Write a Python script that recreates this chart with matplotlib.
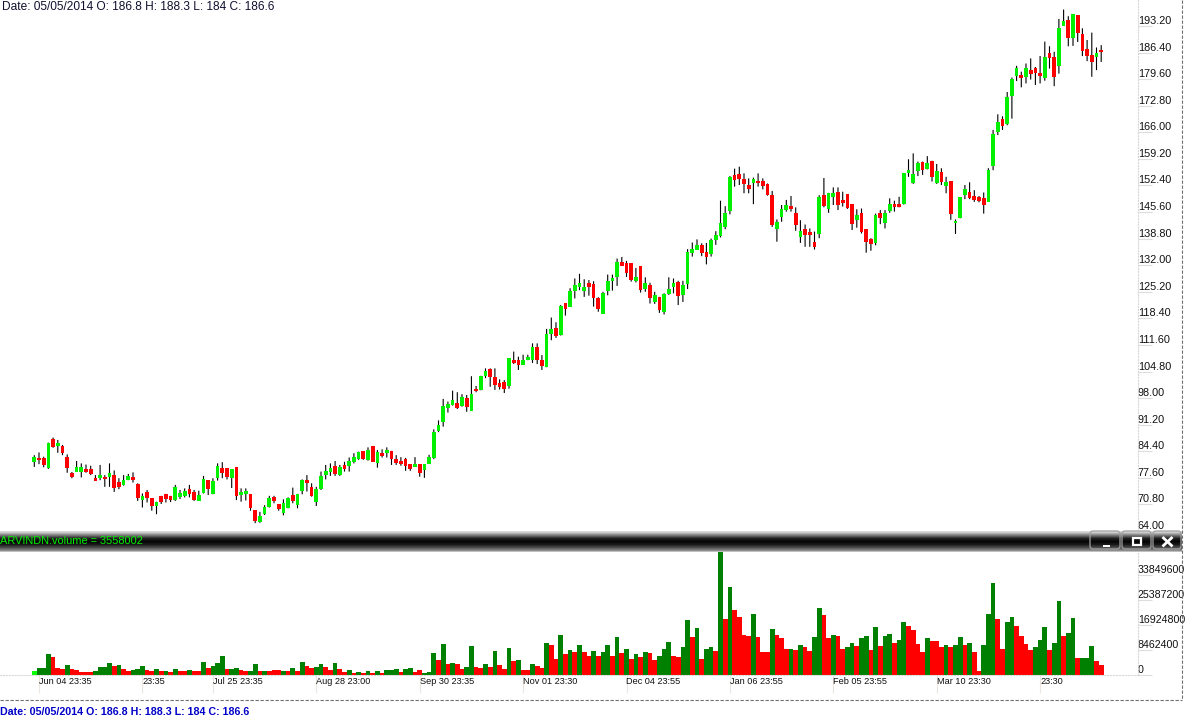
import matplotlib
matplotlib.use("Agg")
import matplotlib.pyplot as plt
import numpy as np
from matplotlib.patches import FancyBboxPatch, Rectangle

plt.rcParams['font.family'] = ['Liberation Sans', 'DejaVu Sans']

# ====== DATA ======
opens = [
    81.6,82.6,82.4,80.0,87.3,85.8,85.5,82.8,78.6,79.2,
    79.1,79.8,79.7,77.5,77.5,77.7,77.8,78.3,76.4,75.8,
    77.0,77.7,75.8,72.0,73.7,72.3,70.3,72.7,73.2,72.7,
    71.9,72.7,73.0,74.6,73.8,71.8,73.8,76.8,73.5,77.6,
    79.9,79.9,77.6,80.2,73.1,73.5,73.4,69.1,66.2,68.3,
    70.2,72.5,70.7,68.6,69.9,73.0,70.6,74.2,77.0,75.0,
    71.5,74.7,78.2,79.0,80.5,78.2,80.8,80.7,81.7,82.3,
    84.2,82.2,85.5,81.4,83.9,83.9,84.3,82.2,81.8,82.3,
    80.9,80.4,80.9,79.6,81.2,82.7,89.5,91.9,95.5,96.3,
    96.6,96.1,97.8,94.7,100.2,100.0,103.7,105.2,103.2,101.8,
    101.9,101.2,107.7,107.5,106.5,107.7,107.7,110.8,107.7,106.0,
    114.3,115.7,114.1,122.2,121.4,125.3,126.3,125.5,127.2,127.1,
    123.5,119.5,125.4,127.9,129.0,132.7,132.4,132.3,127.9,131.6,
    126.0,126.7,122.6,123.6,120.1,124.7,126.5,127.6,124.4,127.3,
    135.2,136.0,137.1,135.2,134.8,138.4,139.5,141.8,145.8,154.8,
    155.2,153.8,152.3,153.1,153.4,153.4,152.7,149.7,141.3,144.2,
    146.1,146.9,145.2,139.1,141.0,140.3,137.7,140.1,149.8,146.3,
    149.5,150.7,148.6,150.1,147.6,143.5,145.2,141.0,138.5,137.6,
    145.2,142.9,145.8,147.6,147.6,147.7,155.6,152.9,156.1,158.3,
    156.6,158.4,152.9,155.6,152.3,153.3,142.7,144.0,150.0,150.7,
    149.6,149.4,149.1,148.2,157.4,166.1,169.3,168.1,175.4,180.4,
    180.6,180.1,181.9,182.2,181.1,179.8,186.1,185.0,183.0,193.3,
    194.5,190.2,195.8,190.9,187.2,185.6,185.2,186.8,
]
highs = [
    83.4,84.1,83.0,86.6,87.9,87.3,86.0,83.6,79.1,81.9,
    81.3,81.0,80.7,78.3,80.9,78.3,81.3,79.5,77.5,78.3,
    78.6,79.0,76.2,73.6,74.5,72.3,71.5,73.0,73.5,73.0,
    75.8,74.5,74.9,75.8,74.5,74.3,78.1,77.0,77.5,81.3,
    81.6,80.0,79.8,80.3,74.9,74.9,73.4,69.1,68.9,70.6,
    73.0,73.0,70.8,72.1,72.6,75.1,73.5,77.2,78.3,76.2,
    75.3,79.2,80.9,81.3,81.9,80.9,81.7,82.8,83.9,84.3,
    84.3,85.4,85.5,84.7,84.9,85.4,84.5,83.4,82.9,82.7,
    81.0,82.9,80.9,81.1,83.5,90.0,92.3,97.8,97.1,99.9,
    99.5,99.0,98.8,103.6,101.1,103.7,105.6,105.6,105.6,102.8,
    102.6,108.2,109.9,108.6,109.1,109.1,112.0,112.0,109.0,115.7,
    118.6,117.4,121.8,122.2,126.1,128.6,129.8,128.4,128.2,127.9,
    123.8,125.2,129.6,129.6,133.7,134.1,133.1,132.5,131.3,131.8,
    128.9,127.5,125.2,123.9,124.8,128.9,128.6,128.0,128.0,136.1,
    137.8,138.6,137.6,137.7,138.8,140.7,148.5,147.1,154.8,156.7,
    157.2,155.5,154.2,154.4,155.5,154.2,152.9,151.0,143.7,147.4,
    148.7,149.7,146.8,143.5,142.4,141.4,140.6,149.9,154.3,150.5,
    151.9,151.9,150.8,150.2,147.6,146.3,146.5,141.0,138.9,145.2,
    146.1,146.1,149.1,148.5,149.5,155.6,159.1,160.6,158.5,158.5,
    159.9,158.7,157.9,156.8,154.6,153.4,143.7,149.3,152.5,153.2,
    151.2,149.7,150.6,156.8,166.6,170.6,170.1,176.3,180.0,183.0,
    181.5,183.6,184.9,182.7,185.5,189.2,188.0,186.6,195.0,197.4,
    195.7,196.0,196.0,192.6,189.6,191.5,187.7,188.3,
]
lows = [
    80.4,81.1,80.3,79.9,85.3,84.0,83.4,78.9,77.5,79.2,
    77.7,78.9,78.3,76.8,77.0,75.3,75.3,74.0,74.7,75.6,
    77.0,76.4,71.7,70.0,71.3,69.2,68.3,70.9,71.3,71.4,
    71.7,72.2,72.6,72.6,71.7,71.7,73.6,73.2,73.4,76.9,
    77.5,77.2,75.0,71.9,71.5,71.8,69.2,66.0,66.1,68.1,
    70.0,71.1,69.2,68.0,69.8,71.1,69.8,73.4,74.1,72.8,
    70.4,74.5,77.2,78.1,78.1,78.1,79.2,79.2,81.3,82.2,
    82.2,82.0,81.7,80.2,82.8,82.8,80.9,80.9,80.7,79.4,
    79.4,80.4,77.9,77.6,81.2,82.4,89.3,90.7,94.3,96.1,
    95.2,95.8,94.5,94.7,99.5,100.0,103.1,100.9,100.1,100.2,
    99.3,100.4,106.7,105.2,106.5,107.7,107.0,106.7,105.2,105.9,
    112.8,113.4,114.0,119.1,121.4,123.5,125.6,123.9,124.2,121.4,
    120.1,119.5,124.3,125.5,126.7,131.9,129.0,127.8,127.6,125.0,
    125.2,122.2,122.1,119.8,119.4,124.4,124.8,121.8,122.6,125.9,
    134.2,135.9,134.3,132.2,134.2,137.2,139.1,141.2,145.0,152.1,
    152.5,150.4,150.4,147.6,152.1,151.4,149.8,141.8,138.0,143.1,
    145.7,145.7,140.8,137.7,136.7,136.7,136.0,138.9,146.8,145.4,
    147.4,146.1,147.0,146.4,141.0,141.6,140.1,135.2,135.7,137.1,
    142.5,141.4,145.4,145.7,146.8,147.5,154.6,152.8,154.8,155.1,
    156.5,153.4,152.8,152.5,150.4,143.6,140.0,144.0,148.9,148.9,
    148.2,148.1,145.2,148.2,156.3,165.3,166.6,167.8,169.5,179.1,
    177.5,178.5,179.5,178.1,178.5,179.2,182.3,177.8,181.0,193.2,
    188.0,188.1,189.1,185.5,184.2,180.2,181.9,184.0,
]
closes = [
    82.7,82.1,81.0,86.4,85.5,86.3,83.9,80.1,77.7,80.1,
    80.1,79.2,78.5,76.9,78.1,77.2,78.6,75.1,75.2,76.9,
    78.0,77.0,72.4,72.7,72.4,70.4,71.2,71.4,72.3,71.9,
    75.0,73.5,74.1,73.5,71.9,73.0,77.2,74.7,76.6,80.5,
    78.9,77.8,79.7,73.0,73.9,74.1,70.0,66.6,67.8,70.0,
    72.2,71.8,69.7,71.1,72.3,71.7,73.3,76.9,76.4,73.0,
    74.5,77.9,79.2,79.9,78.7,80.3,79.9,81.7,82.9,84.0,
    82.3,84.5,81.7,84.0,83.3,84.5,82.4,81.4,81.1,80.7,
    79.9,81.1,78.8,80.9,82.9,89.3,91.0,95.7,96.4,97.4,
    95.4,98.1,95.6,99.0,99.7,103.6,104.8,103.4,101.3,100.8,
    100.4,108.1,106.9,106.5,107.7,108.3,110.8,107.7,106.3,114.3,
    115.4,114.0,121.4,120.7,125.3,126.8,127.4,126.2,126.4,123.6,
    120.9,124.8,127.8,128.5,132.6,131.9,130.1,128.2,128.8,125.6,
    127.4,123.7,124.2,120.6,124.4,125.7,127.2,124.1,126.9,135.2,
    135.9,136.9,135.0,134.2,138.2,139.5,142.7,145.1,154.5,153.8,
    154.0,152.7,151.4,154.0,153.1,152.2,149.9,142.3,143.0,146.3,
    147.3,146.3,142.4,140.5,139.7,139.6,136.6,149.3,147.2,150.2,
    150.2,147.3,148.0,146.7,142.5,144.7,140.4,138.0,137.5,144.6,
    144.1,145.2,147.6,146.9,146.9,155.4,156.3,155.3,157.9,156.4,
    157.9,154.6,155.9,153.3,153.1,145.0,143.1,149.3,151.4,149.3,
    148.8,148.3,147.5,156.3,165.5,168.4,167.6,174.9,179.6,182.4,
    179.9,182.2,180.8,181.2,180.3,185.0,185.1,180.2,192.6,194.3,
    190.2,196.0,191.3,186.8,185.6,183.9,186.2,186.6,
]

# volume in millions
volumes = [
    1.47,2.48,2.54,7.22,6.20,2.48,2.14,3.50,2.14,1.80,
    1.13,1.07,1.02,1.47,2.82,2.88,4.17,3.16,3.50,2.14,
    1.47,1.80,2.14,3.16,1.80,1.47,2.14,1.47,1.52,1.13,
    2.14,1.47,1.41,1.80,1.47,1.41,4.51,2.48,3.16,4.17,
    6.54,2.14,2.20,2.48,1.80,1.47,1.52,3.84,1.47,1.52,
    1.47,1.80,1.80,1.47,1.47,2.48,1.47,4.51,3.16,2.48,
    2.82,3.84,2.82,1.80,4.17,2.14,1.13,1.80,0.79,1.13,
    0.79,1.47,0.79,1.47,0.79,1.80,1.86,2.14,1.13,2.14,
    2.48,1.13,1.80,0.79,1.13,7.56,5.19,10.60,3.84,4.17,
    3.84,2.14,2.82,9.93,2.82,2.48,3.84,2.82,8.23,3.50,
    2.14,9.25,4.85,5.19,1.80,1.80,3.84,3.16,2.48,10.94,
    10.26,5.53,13.65,7.22,8.57,7.90,10.26,7.90,6.54,8.23,
    6.54,7.90,10.26,6.54,12.97,7.56,8.91,5.53,7.22,6.20,
    7.90,7.56,5.19,6.54,8.91,11.28,6.54,6.20,9.59,18.72,
    12.97,16.02,5.53,8.91,9.59,8.23,41.73,19.06,29.89,22.11,
    19.74,13.65,13.31,20.76,12.97,7.90,7.90,15.68,13.65,12.63,
    8.91,8.91,8.57,10.26,9.59,8.23,12.97,22.79,20.42,12.63,
    13.65,13.31,8.91,9.59,10.94,9.93,12.63,13.31,8.57,16.36,
    9.93,13.31,13.99,10.94,11.96,18.05,16.69,15.34,10.60,7.90,
    12.63,11.62,11.62,9.59,10.26,9.59,10.26,12.97,10.26,10.94,
    7.90,1.47,10.26,20.76,31.25,19.06,8.91,18.05,19.74,16.69,
    13.31,10.60,8.57,9.59,11.96,16.36,8.57,10.94,25.15,13.31,
    14.33,19.40,5.87,5.92,5.98,9.93,4.85,3.558002,
]
# G = volume bar drawn green, R = red
vol_dirs = (
    "GGGGRRRGRR" "RRRGGGGRGR" "RGGGRRGRGR" "GRRGRRGRGG" "GRGGRRGGRG"
    "RRRGRGRGRR" "GGRRGRRGRG" "RGRGRGGGRG" "GRRGGGRGRG" "RRGGRRGRGR"
    "RGRGRRGRRG" "RRGRGRGRRG" "RGGRGRGRGR" "GRRGGGRRGG" "RGRGGRGRGR"
    "RRRGRRRGRR" "RGRGRRGGRR" "GRRGGRGGRG" "RGGRGGRRRR" "GRRRGRGGRG"
    "RRGGGRRGGR" "RRRGGGRGGR" "GGRGGGRR"
)

price_ticks = [64.0 + 6.8 * k for k in range(20)]
volume_ticks = [0, 8462400, 16924800, 25387200, 33849600]
date_ticks = [1, 23, 38, 60, 82, 104, 126, 148, 170, 192, 214]
date_labels = ['Jun 04 23:35', '23:35', 'Jul 25 23:35', 'Aug 28 23:00', 'Sep 30 23:35',
               'Nov 01 23:30', 'Dec 04 23:55', 'Jan 06 23:55', 'Feb 05 23:55',
               'Mar 10 23:30', '23:30']
ohlc_text = "Date: 05/05/2014 O: 186.8 H: 188.3 L: 184 C: 186.6"
volume_text = "ARVINDN.volume = 3558002"

# ====== FIGURE ======
W, H = 1185, 724
fig = plt.figure(figsize=(W / 100, H / 100), dpi=100, facecolor='white')


def panel(x0, y0, x1, y1):
    # pixel box, measured from the top left
    return fig.add_axes([x0 / W, 1 - y1 / H, (x1 - x0) / W, (y1 - y0) / H])


n = len(opens)
x = np.arange(n)
opens = np.array(opens)
closes = np.array(closes)
xlim = (-34.3 / 4.7, (1138 - 34.3) / 4.7)

# ====== PRICE PANEL ======
ax = panel(0, 0, 1138, 531)
up = closes >= opens
wicks = ax.vlines(x, lows, highs, color='black', linewidth=0.8, zorder=2)
wicks.set_snap(False)
ax.bar(x, np.abs(closes - opens) + 0.15, bottom=np.minimum(opens, closes), width=0.8,
       color=np.where(up, '#00f000', '#ff0000'), linewidth=0, zorder=3)
ax.set_xlim(xlim)
ax.set_ylim(64, 64 + 531 / 3.909)
ax.set_xticks([])
ax.yaxis.tick_right()
ax.set_yticks(price_ticks)
ax.set_yticklabels(['%.2f' % t for t in price_ticks], fontsize=7.8, va='bottom', color='#111111')
ax.tick_params(axis='y', length=10, width=0.8, color='#dddddd', pad=-10)
for s in ['top', 'left', 'bottom']:
    ax.spines[s].set_visible(False)
ax.spines['right'].set_color('#d8d8d8')
ax.spines['right'].set_linestyle(':')

# ====== VOLUME PANEL ======
ax2 = panel(0, 552, 1138, 675.3)
bar_colors = ['#008000' if d == 'G' else '#ff0000' for d in vol_dirs]
bar_colors[0] = '#00ff00'
ax2.bar(x, np.array(volumes) * 1e6, width=1.0, color=bar_colors, linewidth=0)
ax2.set_xlim(xlim)
ax2.set_ylim(0, 123.3 * 8462400 / 25)
ax2.set_xticks(date_ticks)
ax2.set_xticklabels(date_labels, fontsize=6.6, ha='left', color='#111111')
ax2.tick_params(axis='x', length=13, width=0.8, color='#ece6e0', pad=-12)
ax2.yaxis.tick_right()
ax2.set_yticks(volume_ticks)
ax2.set_yticklabels([str(t) for t in volume_ticks], fontsize=7.7, va='bottom', color='#111111')
ax2.tick_params(axis='y', length=10, width=0.8, color='#dddddd', pad=-10)
for s in ['top', 'left']:
    ax2.spines[s].set_visible(False)
ax2.spines['bottom'].set_color('#d8d8d8')
ax2.spines['bottom'].set_linestyle(':')
ax2.spines['right'].set_color('#d8d8d8')
ax2.spines['right'].set_linestyle(':')

# ====== TITLE BAND, BUTTONS, TEXT ======
over = fig.add_axes([0, 0, 1, 1], zorder=5)
over.patch.set_alpha(0)
grad = np.interp(np.arange(531, 552), [531, 532, 535, 538, 541, 544, 547, 550, 551],
                 [0.85, 0.8, 0.45, 0.12, 0.02, 0.1, 0.3, 0.55, 0.75]).reshape(-1, 1)
over.imshow(grad, cmap='gray', vmin=0, vmax=1, extent=[0, 1181.5, 552, 531], aspect='auto')
over.set_xlim(0, W)
over.set_ylim(H, 0)
over.axis('off')

for bx0, bx1 in [(1090, 1120), (1122, 1151), (1153, 1181)]:
    over.add_patch(FancyBboxPatch((bx0 + 3, 534), bx1 - bx0 - 6, 12,
                                  boxstyle='round,pad=3', facecolor='none',
                                  edgecolor='#a0a0a0', linewidth=0.9))
over.add_patch(Rectangle((1103, 545), 7, 1.6, facecolor='white', linewidth=0))
over.add_patch(Rectangle((1132.5, 538), 8, 7, facecolor='none', edgecolor='white', linewidth=1.6))
over.plot([1163.5, 1171.5], [538, 545.5], color='white', linewidth=2)
over.plot([1163.5, 1171.5], [545.5, 538], color='white', linewidth=2)

over.text(0, 541, volume_text, color='#00f000', fontsize=7.9, va='center', ha='left')
over.text(2, 6.5, ohlc_text, color='#101030', fontsize=8.55, va='center', ha='left')
over.text(0, 712, ohlc_text, color='#0000c8', fontsize=7.65, fontweight='bold', va='center', ha='left')

# outer dashed frame of the window
over.plot([0, 1181.5], [700, 700], color='#707070', linewidth=0.8, linestyle=(0, (3, 1.5)))
over.plot([1181.5, 1181.5], [0, 700], color='#707070', linewidth=0.8, linestyle=(0, (3, 1.5)))

fig.savefig('out.png', dpi=100)
